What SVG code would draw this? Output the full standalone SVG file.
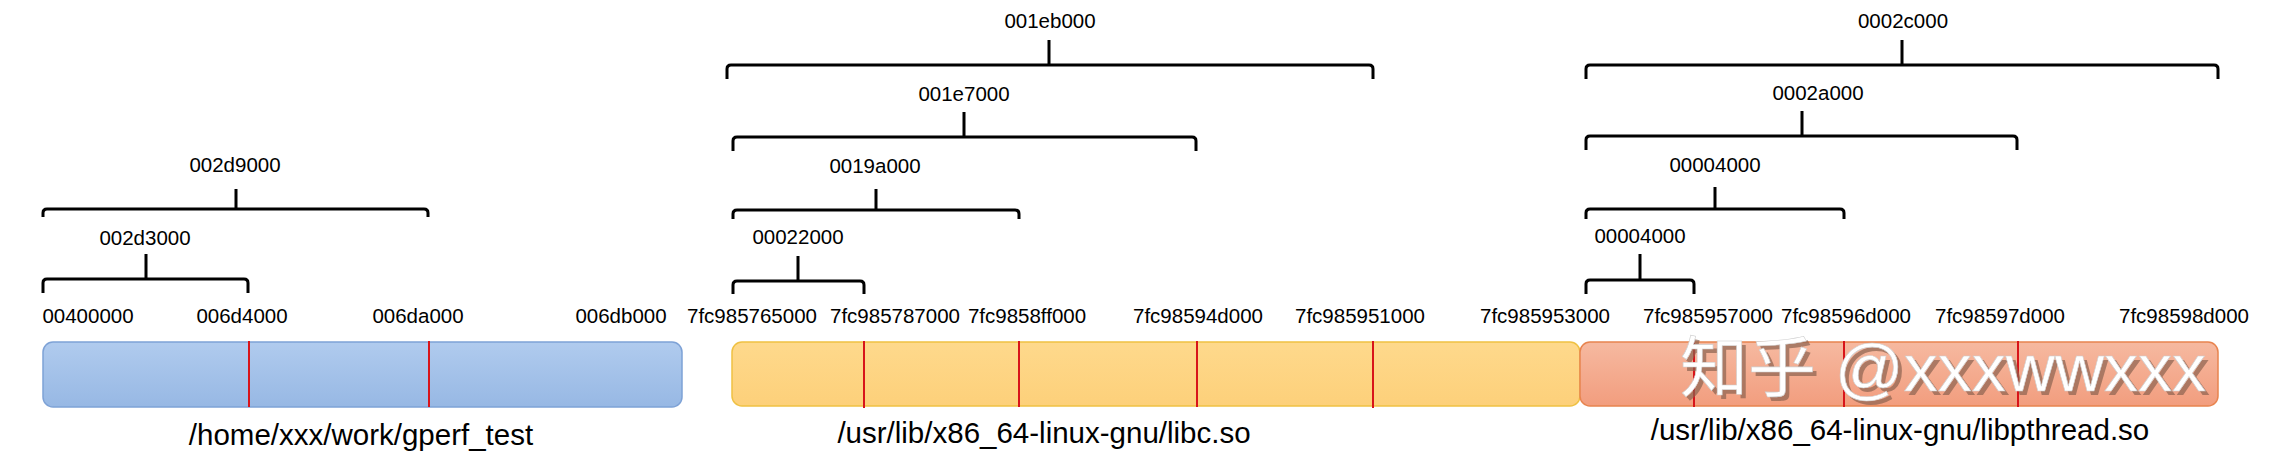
<svg xmlns="http://www.w3.org/2000/svg" width="2271" height="460" viewBox="0 0 2271 460">
<style>
.lbl{font-family:"Liberation Sans",Arial,sans-serif;font-size:20.5px;fill:#000;text-anchor:middle}
.ttl{font-family:"Liberation Sans",Arial,sans-serif;font-size:29.5px;fill:#000;text-anchor:middle}
.br{fill:none;stroke:#000;stroke-width:3;stroke-linejoin:round}
.sep{stroke:#d8141a;stroke-width:2}
.wm{font-family:"Liberation Sans","Noto Sans CJK SC",sans-serif;font-size:66px}
</style>
<defs>
<linearGradient id="gb" x1="0" y1="0" x2="0" y2="1"><stop offset="0" stop-color="#b0cbee"/><stop offset="1" stop-color="#97b8e4"/></linearGradient>
<linearGradient id="gy" x1="0" y1="0" x2="0" y2="1"><stop offset="0" stop-color="#fed98c"/><stop offset="1" stop-color="#fdd07a"/></linearGradient>
<linearGradient id="go" x1="0" y1="0" x2="0" y2="1"><stop offset="0" stop-color="#f6b9a0"/><stop offset="1" stop-color="#f29d7e"/></linearGradient>
</defs>
<rect width="2271" height="460" fill="#fff"/>

<g id="seg-gperf">
<rect x="43" y="342" width="639" height="65" rx="10" fill="url(#gb)" stroke="#7ea2d6" stroke-width="1.5"/>
<line class="sep" x1="249" y1="341" x2="249" y2="407"/>
<line class="sep" x1="429" y1="341" x2="429" y2="407"/>
<text class="lbl" x="88" y="323">00400000</text>
<text class="lbl" x="242" y="323">006d4000</text>
<text class="lbl" x="418" y="323">006da000</text>
<text class="lbl" x="621" y="323">006db000</text>
<text class="ttl" x="361" y="445">/home/xxx/work/gperf_test</text>
</g>

<g id="seg-libc">
<rect x="732" y="342" width="848" height="64" rx="10" fill="url(#gy)" stroke="#efc143" stroke-width="1.5"/>
<line class="sep" x1="864" y1="341" x2="864" y2="408"/>
<line class="sep" x1="1019" y1="341" x2="1019" y2="407"/>
<line class="sep" x1="1197" y1="341" x2="1197" y2="407"/>
<line class="sep" x1="1373" y1="341" x2="1373" y2="408"/>
<text class="lbl" x="752" y="323">7fc985765000</text>
<text class="lbl" x="895" y="323">7fc985787000</text>
<text class="lbl" x="1027" y="323">7fc9858ff000</text>
<text class="lbl" x="1198" y="323">7fc98594d000</text>
<text class="lbl" x="1360" y="323">7fc985951000</text>
<text class="lbl" x="1545" y="323">7fc985953000</text>
<text class="ttl" x="1044" y="443">/usr/lib/x86_64-linux-gnu/libc.so</text>
</g>

<g id="seg-libpthread">
<rect x="1580" y="342" width="638" height="64" rx="10" fill="url(#go)" stroke="#e8844f" stroke-width="1.5"/>
<line class="sep" x1="1694" y1="341" x2="1694" y2="407"/>
<line class="sep" x1="1844" y1="341" x2="1844" y2="407"/>
<line class="sep" x1="2018" y1="341" x2="2018" y2="407"/>
<text class="lbl" x="1708" y="323">7fc985957000</text>
<text class="lbl" x="1846" y="323">7fc98596d000</text>
<text class="lbl" x="2000" y="323">7fc98597d000</text>
<text class="lbl" x="2184" y="323">7fc98598d000</text>
<text class="ttl" x="1900" y="440">/usr/lib/x86_64-linux-gnu/libpthread.so</text>
</g>

<g id="brackets">
<path class="br" d="M43 217V213Q43 209 47 209H424Q428 209 428 213V217M236 189V209"/>
<text class="lbl" x="235" y="172">002d9000</text>
<path class="br" d="M43 293V283Q43 279 47 279H244Q248 279 248 283V293M146 254V279"/>
<text class="lbl" x="145" y="245">002d3000</text>

<path class="br" d="M727 79V69Q727 65 731 65H1369Q1373 65 1373 69V79M1049 40V65"/>
<text class="lbl" x="1050" y="28">001eb000</text>
<path class="br" d="M733 151V141Q733 137 737 137H1192Q1196 137 1196 141V151M964 112V137"/>
<text class="lbl" x="964" y="101">001e7000</text>
<path class="br" d="M733 219V214Q733 210 737 210H1015Q1019 210 1019 214V219M876 189V210"/>
<text class="lbl" x="875" y="173">0019a000</text>
<path class="br" d="M733 294V285Q733 281 737 281H860Q864 281 864 285V294M798 256V281"/>
<text class="lbl" x="798" y="244">00022000</text>

<path class="br" d="M1586 79V69Q1586 65 1590 65H2214Q2218 65 2218 69V79M1902 40V65"/>
<text class="lbl" x="1903" y="28">0002c000</text>
<path class="br" d="M1586 150V140Q1586 136 1590 136H2013Q2017 136 2017 140V150M1802 111V136"/>
<text class="lbl" x="1818" y="100">0002a000</text>
<path class="br" d="M1586 219V213Q1586 209 1590 209H1840Q1844 209 1844 213V219M1715 187V209"/>
<text class="lbl" x="1715" y="172">00004000</text>
<path class="br" d="M1586 294V284Q1586 280 1590 280H1690Q1694 280 1694 284V294M1640 254V280"/>
<text class="lbl" x="1640" y="243">00004000</text>
</g>

<g id="watermark">
<text class="wm" x="1684" y="395" fill="#8c6250" fill-opacity="0.7" textLength="526" lengthAdjust="spacingAndGlyphs">知乎 @xxxwwxxx</text>
<text class="wm" x="1680" y="391" fill="#fff" stroke="#cfcfcf" stroke-width="0.6" textLength="526" lengthAdjust="spacingAndGlyphs">知乎 @xxxwwxxx</text>
</g>
</svg>
